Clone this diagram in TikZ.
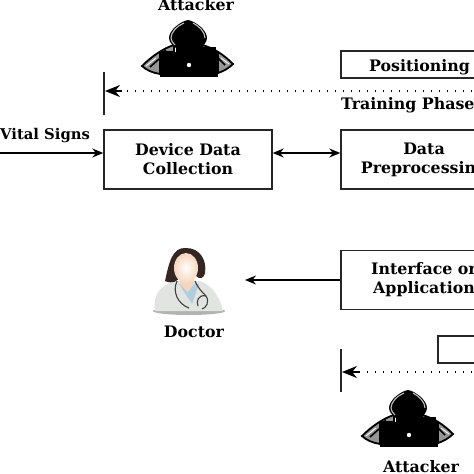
\documentclass[tikz,border=0pt]{standalone}
\usepackage{fontspec}
\setmainfont{DejaVu Serif}
\usetikzlibrary{arrows.meta}
\definecolor{hoodgrey}{RGB}{150,150,150}
\definecolor{hairbrown}{RGB}{52,38,34}
\definecolor{skintone}{RGB}{246,214,190}
\definecolor{coatgrey}{RGB}{226,228,226}
\definecolor{shirtblue}{RGB}{176,206,224}
\tikzset{
    attacker/.pic={
        % arms
        \draw[black, line width=1.8pt, fill=hoodgrey] (-14,-5) .. controls (-24,-2) and (-36,6) .. (-46,16) .. controls (-42,20) and (-35,23) .. (-28,24) -- (-28,2) -- (-14,2) -- cycle;
        \draw[black, line width=1.8pt, fill=hoodgrey] (14,-5) .. controls (26,-2) and (36,5) .. (45,14) .. controls (41,18) and (36,21) .. (30,23) -- (30,2) -- (14,2) -- cycle;
        \draw[black, line width=1.6pt] (-38,17) -- (-29,9);
        \draw[black, line width=1.6pt] (-24,-1) -- (-21,3);
        \draw[black, line width=1.6pt] (37,15) -- (30,8);
        \draw[white, line width=.8pt] (-42,16) -- (-32,8);
        \draw[white, line width=.8pt] (41,14) -- (33,8);
        \fill[black] (15,-3) rectangle (28,3);
        % hood
        \fill[black] (0,-30) .. controls (-7,-29) and (-19,-20) .. (-19,-12) .. controls (-19,-7) and (-14,-4) .. (-12,-2) -- (-12,4) -- (13,4) -- (13,-2) .. controls (15,-4) and (19,-8) .. (19,-12) .. controls (19,-20) and (7,-29) .. (0,-30) -- cycle;
        \draw[hoodgrey!60, line width=1.1pt] (-4,-27) .. controls (-11,-24) and (-17,-18) .. (-17,-12) .. controls (-17,-9) and (-15,-7) .. (-13,-5);
        \draw[hoodgrey!60, line width=1.1pt] (5,-27) .. controls (11,-24) and (17,-18) .. (17,-12);
        % laptop
        \fill[black] (-28,2) rectangle (30,27);
        \fill[white] (1,15) circle (2.2);
    },
    doctorfig/.pic={
        % shadow
        \fill[black!30] (3,43) ellipse (36 and 4);
        % coat
        \fill[coatgrey] (-31,43) .. controls (-33,28) and (-28,19) .. (-12,13) -- (14,13) .. controls (28,18) and (35,32) .. (37,43) -- cycle;
        % hair
        \fill[hairbrown] (0,-20) .. controls (-14,-21) and (-17,-5) .. (-21,13) .. controls (-14,16) and (-8,14) .. (-6,8) -- (10,8) .. controls (14,12) and (18,10) .. (19,5) .. controls (21,-8) and (14,-20) .. (0,-20) -- cycle;
        % neck and shirt
        \fill[shirtblue] (-7,16) -- (13,16) -- (6,36) -- cycle;
        \fill[skintone] (-6,6) -- (7,6) -- (8,16) -- (2,24) -- (-6,16) -- cycle;
        % face
        \shade[inner color=white, outer color=skintone] (0,0) ellipse (12 and 15);
        % stethoscope
        \draw[black!75, line width=1.1pt] (-9,13) .. controls (-14,24) and (-8,36) .. (3,40);
        \draw[black!75, line width=1.1pt] (9,13) .. controls (12,20) and (16,24) .. (20,28) .. controls (24,34) and (20,40) .. (16,41);
        \draw[black!75, line width=1.1pt] (20,28) .. controls (12,26) and (10,34) .. (12,38);
    }
}
\begin{document}
\begin{tikzpicture}[
        x=1pt, y=-1pt,
        block/.style={rectangle, draw=black!85, line width=1.4pt, minimum height=59pt, align=center, font=\fontsize{15.8}{19}\selectfont\bfseries},
        strip/.style={rectangle, draw=black!85, line width=2.2pt, minimum height=27pt},
        lbl/.style={inner sep=0pt, font=\fontsize{15.8}{16}\selectfont\bfseries},
        flow/.style={line width=1.5pt, -{Stealth[length=11pt,width=9pt]}},
        flowboth/.style={line width=1.5pt, {Stealth[length=11pt,width=9pt]}-{Stealth[length=11pt,width=9pt]}},
        leak/.style={line width=1.5pt, dash pattern=on 1.5pt off 6.5pt},
        leakhead/.style={line width=1.2pt, -{Stealth[length=15pt,width=12pt]}},
        barline/.style={line width=2.4pt, black!85}
    ]
        \useasboundingbox (0,0) rectangle (474,474);
        \clip (0,0) rectangle (474,474);

        \pic at (188,50) {attacker};
        \pic at (408,420) {attacker};
        \pic at (186,268) {doctorfig};

        \node[lbl] (atktop) at (196,5) {Attacker};
        \node[lbl] (atkbot) at (421,467) {Attacker};
        \node[lbl] (doctor) at (194,332) {Doctor};
        \node[lbl, anchor=west, font=\fontsize{14.8}{16}\selectfont\bfseries] (vital) at (0,136) {Vital Signs};
        \node[lbl, anchor=base west] (train) at (341,109) {Training Phase};

        \node[block, minimum width=168pt] (collect) at (188,159.5) {Device Data\\Collection};
        \node[block, minimum width=166pt] (prep) at (424,159.5) {Data\\Preprocessing};
        \node[block, minimum width=166pt] (iface) at (424,280) {Interface or\\Application};
        \node[strip, minimum width=166pt] (posit) at (424,64.5) {};
        \node[lbl, anchor=base west] (positlbl) at (369,71) {Positioning};
        \node[strip, minimum width=80pt] (lower) at (478,349.5) {};

        \coordinate (vitalin) at (-4,153);
        \coordinate (bartopa) at (104,72);
        \coordinate (bartopb) at (104,115);
        \coordinate (barbota) at (341,349);
        \coordinate (barbotb) at (341,392);
        \coordinate (topdot) at (480,91);
        \coordinate (topmid) at (122,91);
        \coordinate (topend) at (105,91);
        \coordinate (botdot) at (480,372);
        \coordinate (botmid) at (359,372);
        \coordinate (botend) at (342,372);
        \coordinate (doctorin) at (245,280);

        \draw[barline] (bartopa)--(bartopb);
        \draw[barline] (barbota)--(barbotb);
        \draw[leak] (topdot)--(topmid);
        \draw[leak] (botdot)--(botmid);
        \draw[leakhead] (topmid)--(topend);
        \draw[leakhead] (botmid)--(botend);

        \draw[flow] (vitalin)--(collect.west |- vitalin);
        \draw[flowboth] (collect.east |- vitalin)--(prep.west |- vitalin);
        \draw[flow] (iface)--(doctorin);
    \end{tikzpicture}
\end{document}
